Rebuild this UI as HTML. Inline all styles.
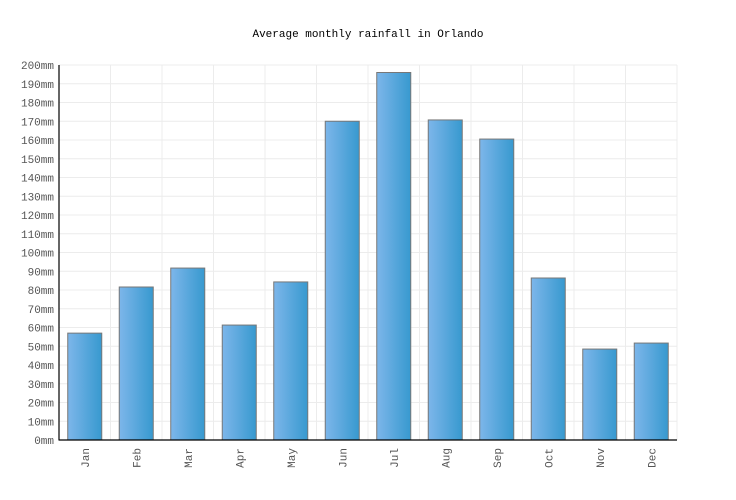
<!DOCTYPE html>
<html><head><meta charset="utf-8"><style>
body{margin:0;background:#fff;}
svg{display:block;font-family:"Liberation Mono","DejaVu Sans Mono",monospace;}
</style></head><body>
<svg id="chart" width="736" height="500">
<defs><linearGradient id="g" x1="0" x2="1" y1="0" y2="0"><stop offset="0" stop-color="#7db6ea"/><stop offset="1" stop-color="#3799cf"/></linearGradient></defs>
<text x="368" y="37" text-anchor="middle" font-size="11" fill="#000">Average monthly rainfall in Orlando</text>
</svg>
<script>
const categories=["Jan","Feb","Mar","Apr","May","Jun","Jul","Aug","Sep","Oct","Nov","Dec"];
const rainfall=[57,81.6,91.7,61.3,84.3,170,196,170.7,160.5,86.4,48.5,51.7];
const tickValues=[0,10,20,30,40,50,60,70,80,90,100,110,120,130,140,150,160,170,180,190,200];
const svg=document.getElementById('chart');
const NS='http://www.w3.org/2000/svg';
const X0=59,X1=677,Y0=440,Y1=65,YMAX=200;
const y=v=>Y0-(v/YMAX)*(Y0-Y1);
const step=(X1-X0)/categories.length;
const xc=i=>X0+step*(i+0.5);
function mk(t,a){const e=document.createElementNS(NS,t);for(const k in a)e.setAttribute(k,a[k]);svg.appendChild(e);return e;}
tickValues.forEach(v=>{
  const l=mk('line',{x1:X0,x2:X1,y1:y(v),y2:y(v),stroke:'#ececec','stroke-width':1});
  
  
  const t=mk('text',{x:54,y:y(v)+4,'text-anchor':'end','font-size':11,fill:'#555'});
  t.textContent=v+'mm';
  
  
});
for(let i=0;i<=categories.length;i++){
  const l=mk('line',{x1:X0+step*i,x2:X0+step*i,y1:Y1,y2:Y0,stroke:'#ececec','stroke-width':1});
  
  
}
categories.forEach((c,i)=>{
  const bw=34;
  const b=mk('rect',{x:xc(i)-bw/2,y:y(rainfall[i]),width:bw,height:Y0-y(rainfall[i]),fill:'url(#g)',stroke:'#777','stroke-width':1});
  
  
  const t=mk('text',{x:0,y:0,'text-anchor':'end','font-size':11,fill:'#555',transform:`translate(${xc(i)+4},${Y0+8}) rotate(-90)`});
  t.textContent=c;
  
  
});
const ax=mk('line',{x1:X0,x2:X0,y1:Y1,y2:Y0+0.5,stroke:'#000','stroke-width':1.2});


const bx=mk('line',{x1:X0,x2:X1,y1:Y0,y2:Y0,stroke:'#000','stroke-width':1.2});


</script>
</body></html>
